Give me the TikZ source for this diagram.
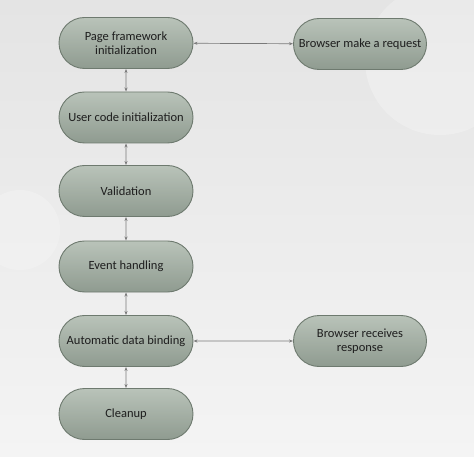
\documentclass[tikz,border=0pt]{standalone}
\usepackage{fontspec}
\setmainfont{Carlito}
\usetikzlibrary{arrows.meta,shapes.misc}
\definecolor{bgtop}{HTML}{E4E4E4}
\definecolor{bgbot}{HTML}{F4F4F4}
\definecolor{nodetop}{HTML}{B9C3B9}
\definecolor{nodebot}{HTML}{8F9B90}
\definecolor{nodeedge}{HTML}{6E7A6F}
\definecolor{linec}{HTML}{7A7A7A}
\definecolor{txt}{HTML}{1E1E1E}
\tikzset{
  stepbox/.style={rounded rectangle, draw=nodeedge, line width=0.9pt,
    top color=nodetop, bottom color=nodebot, text=txt,
    minimum width=138pt, minimum height=51pt, inner sep=2pt,
    align=center, font=\fontsize{12.5}{14}\selectfont},
  link/.style={draw=linec, line width=0.7pt, {Stealth[length=4pt,width=3pt]}-{Stealth[length=4pt,width=3pt]}}
}
\begin{document}
\begin{tikzpicture}[x=1pt,y=-1pt]
\useasboundingbox (0,0) rectangle (474,457);
\shade[top color=bgtop, bottom color=bgbot] (0,0) rectangle (474,457);
\fill[white,opacity=0.25] (440,60) circle (75);
\fill[white,opacity=0.2] (20,230) circle (40);
\node[stepbox] (pf) at (126,43) {Page framework\\initialization};
\node[stepbox] (uc) at (126,117.5) {User code initialization};
\node[stepbox] (va) at (126,191) {Validation};
\node[stepbox] (eh) at (126,266.5) {Event handling};
\node[stepbox] (ad) at (126,341) {Automatic data binding};
\node[stepbox] (cl) at (126,414) {Cleanup};
\node[stepbox, minimum width=137pt] (br) at (360,44) {Browser make a request};
\node[stepbox, minimum width=137pt] (rr) at (360,341) {Browser receives\\response};
\draw[link] (pf) -- (uc);
\draw[link] (uc) -- (va);
\draw[link] (va) -- (eh);
\draw[link] (eh) -- (ad);
\draw[link] (ad) -- (cl);
\draw[link] (pf) -- (br);
\draw[link] (ad) -- (rr);
\end{tikzpicture}
\end{document}
